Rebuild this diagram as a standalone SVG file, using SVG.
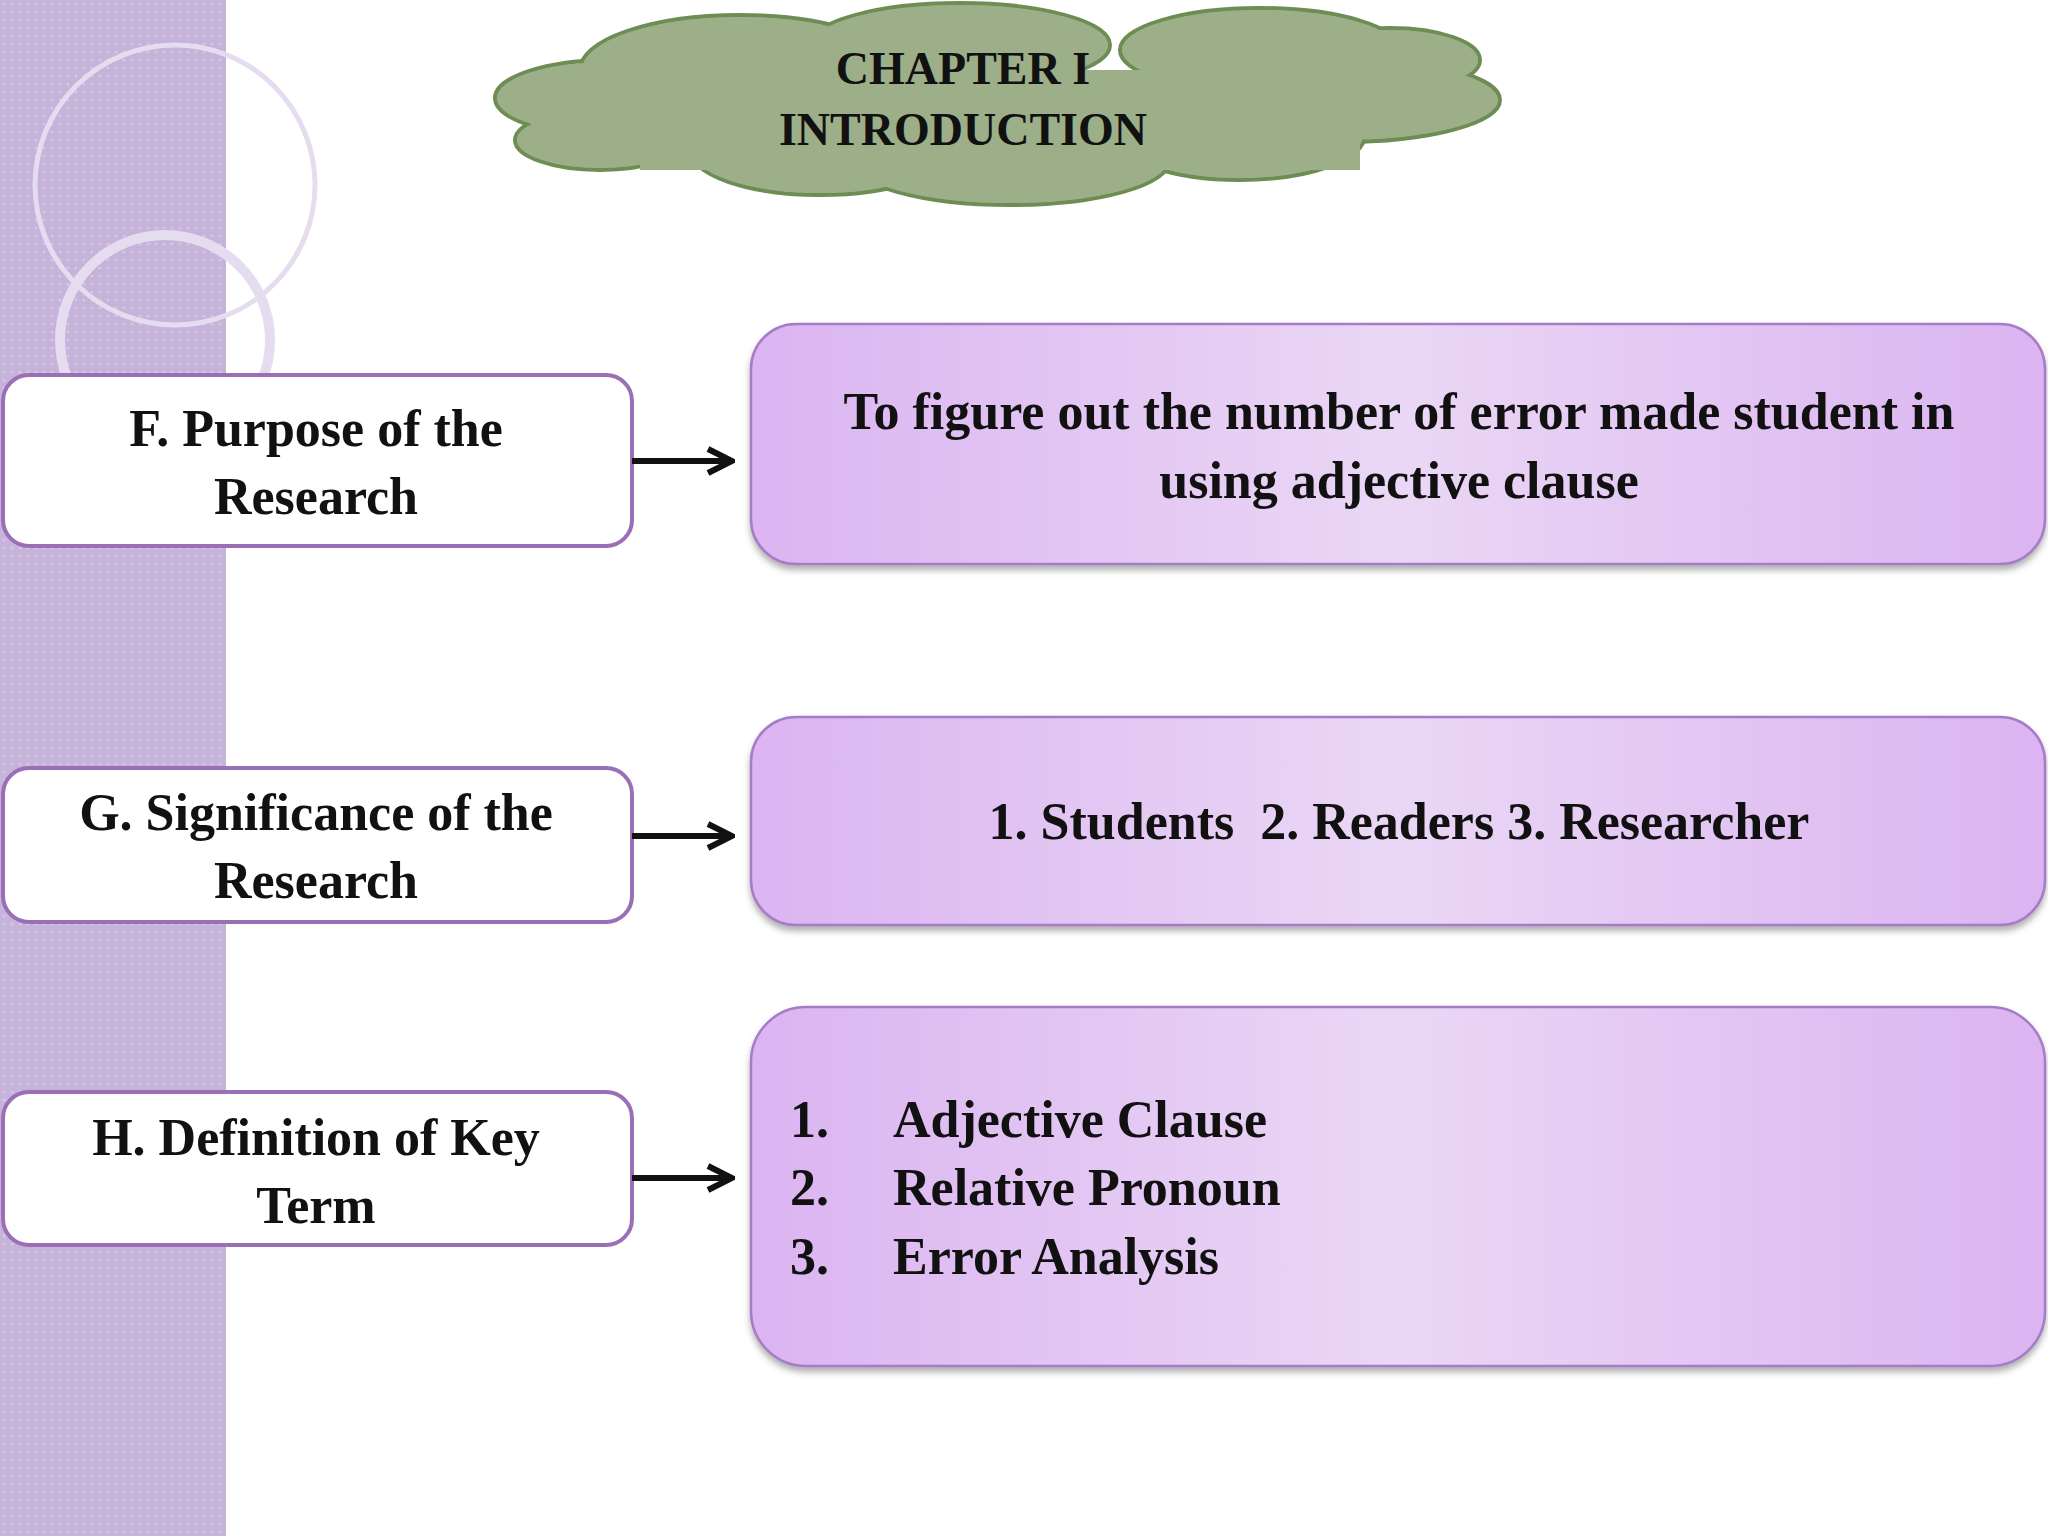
<svg xmlns="http://www.w3.org/2000/svg" width="2048" height="1536" viewBox="0 0 2048 1536">
<defs>
<style>
.t{font-family:"Liberation Serif","Times New Roman",serif;font-weight:bold;fill:#111;text-anchor:middle}
.lb{fill:#fff;stroke:#9b6fb5;stroke-width:4}
.rb{fill:url(#g);stroke:#a77cc6;stroke-width:2.5}
.cl{fill:#9caf88;stroke:#6e8d54;stroke-width:4}
.cf{fill:#9caf88}
</style>
<linearGradient id="g" x1="0" y1="0" x2="1" y2="0">
<stop offset="0" stop-color="#dbb4f1"/><stop offset="0.5" stop-color="#ead7f5"/><stop offset="1" stop-color="#dbb4f1"/>
</linearGradient>
<pattern id="p" width="8" height="8" patternUnits="userSpaceOnUse">
<rect width="8" height="8" fill="#c6b3da"/><circle cx="4" cy="4" r="1.6" fill="#d5c6e4"/>
</pattern>
<marker id="a" viewBox="0 0 10 10" refX="9" refY="5" markerWidth="5" markerHeight="5" orient="auto"><path d="M1,1 L9,5 L1,9" fill="none" stroke="#111" stroke-width="2"/></marker>
<filter id="s" x="-5%" y="-5%" width="110%" height="120%"><feDropShadow dx="0" dy="5" stdDeviation="3" flood-color="#555" flood-opacity="0.45"/></filter>
</defs>
<rect width="2048" height="1536" fill="#fff"/>
<rect width="226" height="1536" fill="url(#p)"/>
<circle cx="175" cy="185" r="140" fill="none" stroke="#e6dcef" stroke-width="5"/>
<circle cx="165" cy="340" r="105" fill="none" stroke="#e6dcef" stroke-width="10"/>
<g id="cloud">
<g class="cl">
<ellipse cx="610" cy="98" rx="115" ry="38"/><ellipse cx="600" cy="140" rx="85" ry="30"/>
<ellipse cx="740" cy="70" rx="160" ry="55"/><ellipse cx="820" cy="150" rx="130" ry="45"/>
<ellipse cx="1010" cy="160" rx="160" ry="45"/><ellipse cx="960" cy="45" rx="150" ry="42"/>
<ellipse cx="1260" cy="50" rx="140" ry="42"/><ellipse cx="1340" cy="100" rx="160" ry="42"/>
<ellipse cx="1240" cy="135" rx="125" ry="45"/><ellipse cx="1390" cy="60" rx="90" ry="32"/>
</g>
<g class="cf">
<ellipse cx="610" cy="98" rx="113" ry="36"/><ellipse cx="600" cy="140" rx="83" ry="28"/>
<ellipse cx="740" cy="70" rx="158" ry="53"/><ellipse cx="820" cy="150" rx="128" ry="43"/>
<ellipse cx="1010" cy="160" rx="158" ry="43"/><ellipse cx="960" cy="45" rx="148" ry="40"/>
<ellipse cx="1260" cy="50" rx="138" ry="40"/><ellipse cx="1340" cy="100" rx="158" ry="40"/>
<ellipse cx="1240" cy="135" rx="123" ry="43"/><ellipse cx="1390" cy="60" rx="88" ry="30"/>
<rect x="640" y="70" width="720" height="100"/>
</g>
<text class="t" x="963" y="84" font-size="46">CHAPTER I</text>
<text class="t" x="963" y="145" font-size="46">INTRODUCTION</text>
</g>
<g id="F"><rect class="lb" x="3" y="375" width="629" height="171" rx="26"/>
<text class="t" x="316" y="446" font-size="52">F. Purpose of the</text><text class="t" x="316" y="514" font-size="52">Research</text></g>
<g id="G"><rect class="lb" x="3" y="768" width="629" height="154" rx="26"/>
<text class="t" x="316" y="830" font-size="52">G. Significance of the</text><text class="t" x="316" y="898" font-size="52">Research</text></g>
<g id="H"><rect class="lb" x="3" y="1092" width="629" height="153" rx="26"/>
<text class="t" x="316" y="1155" font-size="52">H. Definition of Key</text><text class="t" x="316" y="1223" font-size="52">Term</text></g>
<g id="R1"><rect class="rb" filter="url(#s)" x="751" y="324" width="1294" height="240" rx="45"/>
<text class="t" x="1399" y="429" font-size="52">To figure out the number of error made student in</text>
<text class="t" x="1399" y="498" font-size="52">using adjective clause</text></g>
<g id="R2"><rect class="rb" filter="url(#s)" x="751" y="717" width="1294" height="208" rx="45"/>
<text class="t" x="1399" y="839" font-size="52" xml:space="preserve">1. Students  2. Readers 3. Researcher</text></g>
<g id="R3"><rect class="rb" filter="url(#s)" x="751" y="1007" width="1294" height="359" rx="55"/>
<g class="t" font-size="52" style="text-anchor:start">
<text x="790" y="1137">1.</text><text x="893" y="1137">Adjective Clause</text>
<text x="790" y="1205">2.</text><text x="893" y="1205">Relative Pronoun</text>
<text x="790" y="1274">3.</text><text x="893" y="1274">Error Analysis</text></g></g>
<g id="connectors" stroke="#111" stroke-width="6" marker-end="url(#a)">
<line x1="632" y1="461" x2="732" y2="461"/>
<line x1="632" y1="836" x2="732" y2="836"/>
<line x1="632" y1="1178" x2="732" y2="1178"/>
</g>
</svg>
